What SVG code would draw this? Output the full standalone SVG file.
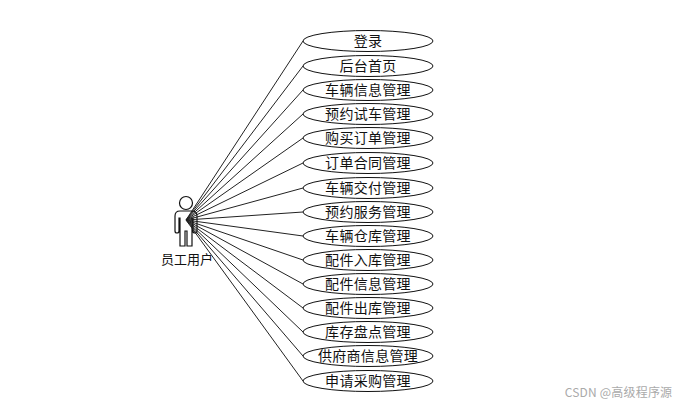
<svg xmlns="http://www.w3.org/2000/svg" width="682" height="406" viewBox="0 0 682 406">
<style>
.e{fill:#fff;stroke:#111;stroke-width:1}
.c line{stroke:#222;stroke-width:1}
.t{font-family:"Noto Sans CJK SC","Liberation Sans",sans-serif;font-size:14px;fill:#111;text-anchor:middle;letter-spacing:.3px}
.a{fill:#fff;stroke:#111;stroke-width:1.2}
</style>
<rect width="682" height="406" fill="#fff"/>
<g id="actor">
<circle class="a" cx="186" cy="203" r="6.5"/>
<path class="a" d="M180 211H192Q197 211 197 216V231Q197 233 195 233T193 231V218H192V246H187V231H185V246H180V218H179V231Q179 233 177 233T175 231V216Q175 211 180 211Z"/>
<text class="t" x="187" y="264" style="letter-spacing:0;font-size:13px">员工用户</text>
</g>
<g id="connectors" class="c">
<line x1="186" y1="220" x2="303" y2="41"/><line x1="186" y1="220" x2="303" y2="66"/><line x1="186" y1="220" x2="303" y2="90"/><line x1="186" y1="220" x2="303" y2="114"/><line x1="186" y1="220" x2="303" y2="138"/><line x1="186" y1="220" x2="303" y2="163"/><line x1="186" y1="220" x2="303" y2="188"/><line x1="186" y1="220" x2="303" y2="212"/><line x1="186" y1="220" x2="303" y2="236"/><line x1="186" y1="220" x2="303" y2="260"/><line x1="186" y1="220" x2="303" y2="284"/><line x1="186" y1="220" x2="303" y2="308"/><line x1="186" y1="220" x2="303" y2="332"/><line x1="186" y1="220" x2="303" y2="356"/><line x1="186" y1="220" x2="303" y2="381"/>
</g>
<g id="n1"><ellipse class="e" cx="368" cy="41" rx="65" ry="10.5"/><text class="t" x="368" y="46">登录</text></g>
<g id="n2"><ellipse class="e" cx="368" cy="66" rx="65" ry="10.5"/><text class="t" x="368" y="71">后台首页</text></g>
<g id="n3"><ellipse class="e" cx="368" cy="90" rx="65" ry="10.5"/><text class="t" x="368" y="95">车辆信息管理</text></g>
<g id="n4"><ellipse class="e" cx="368" cy="114" rx="65" ry="10.5"/><text class="t" x="368" y="119">预约试车管理</text></g>
<g id="n5"><ellipse class="e" cx="368" cy="138" rx="65" ry="10.5"/><text class="t" x="368" y="143">购买订单管理</text></g>
<g id="n6"><ellipse class="e" cx="368" cy="163" rx="65" ry="10.5"/><text class="t" x="368" y="168">订单合同管理</text></g>
<g id="n7"><ellipse class="e" cx="368" cy="188" rx="65" ry="10.5"/><text class="t" x="368" y="193">车辆交付管理</text></g>
<g id="n8"><ellipse class="e" cx="368" cy="212" rx="65" ry="10.5"/><text class="t" x="368" y="217">预约服务管理</text></g>
<g id="n9"><ellipse class="e" cx="368" cy="236" rx="65" ry="10.5"/><text class="t" x="368" y="241">车辆仓库管理</text></g>
<g id="n10"><ellipse class="e" cx="368" cy="260" rx="65" ry="10.5"/><text class="t" x="368" y="265">配件入库管理</text></g>
<g id="n11"><ellipse class="e" cx="368" cy="284" rx="65" ry="10.5"/><text class="t" x="368" y="289">配件信息管理</text></g>
<g id="n12"><ellipse class="e" cx="368" cy="308" rx="65" ry="10.5"/><text class="t" x="368" y="313">配件出库管理</text></g>
<g id="n13"><ellipse class="e" cx="368" cy="332" rx="65" ry="10.5"/><text class="t" x="368" y="337">库存盘点管理</text></g>
<g id="n14"><ellipse class="e" cx="368" cy="356" rx="65" ry="10.5"/><text class="t" x="368" y="361">供府商信息管理</text></g>
<g id="n15"><ellipse class="e" cx="368" cy="381" rx="65" ry="10.5"/><text class="t" x="368" y="386">申请采购管理</text></g>
<text x="618.5" y="397" text-anchor="middle" font-family="'Noto Sans CJK SC','Liberation Sans',sans-serif" font-size="12" letter-spacing=".2" fill="#aaa">CSDN @高级程序源</text>
</svg>
